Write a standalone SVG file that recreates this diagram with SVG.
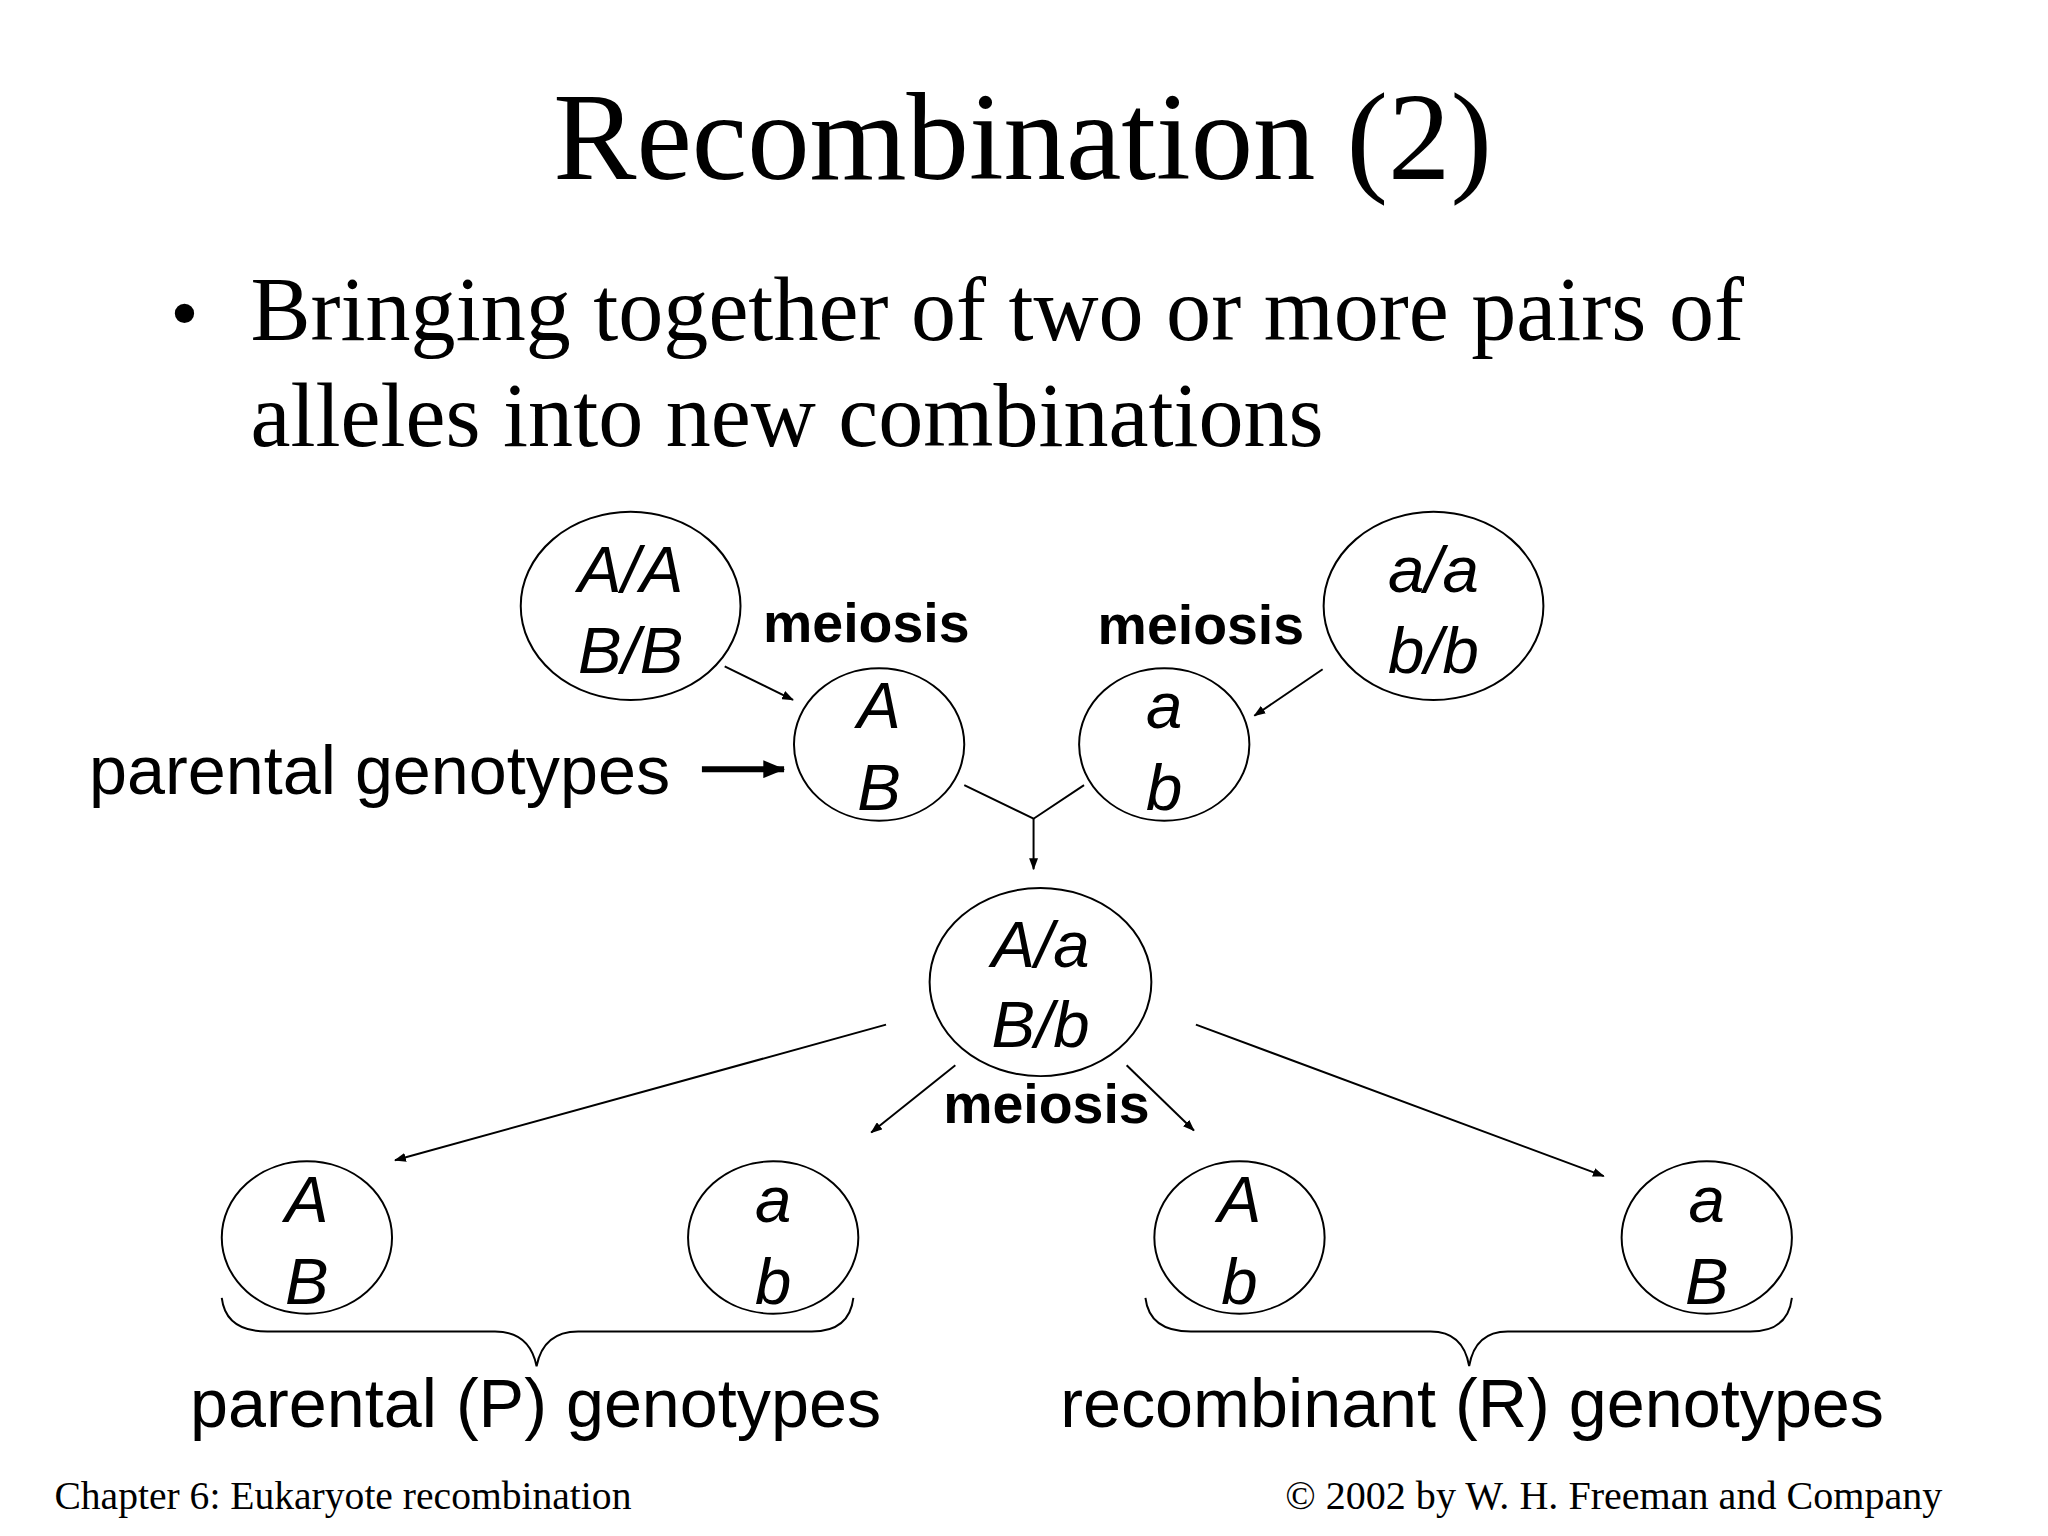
<svg xmlns="http://www.w3.org/2000/svg" width="2048" height="1536" viewBox="0 0 2048 1536">
<style>
.n{fill:none;stroke:#000;stroke-width:2}
.l{font-family:"Liberation Sans",Arial,sans-serif;font-style:italic;font-size:66px;text-anchor:middle}
.m{font-family:"Liberation Sans",Arial,sans-serif;font-weight:bold;font-size:56px;text-anchor:middle}
.c{stroke:#000;stroke-width:2;fill:none;marker-end:url(#ah)}
.s{font-family:"Liberation Serif","Times New Roman",serif}
.a{font-family:"Liberation Sans",Arial,sans-serif}
</style>
<defs><marker id="ah" markerWidth="12" markerHeight="9" refX="11" refY="4.5" orient="auto" markerUnits="userSpaceOnUse"><path d="M0,0L12,4.5L0,9z"/></marker>
<marker id="ah2" markerWidth="22" markerHeight="18" refX="21" refY="9" orient="auto" markerUnits="userSpaceOnUse"><path d="M0,0L22,9L0,18z"/></marker></defs>
<rect width="2048" height="1536" fill="#fff"/>
<g transform="scale(0.99)">
<text class="s" x="1033" y="181" font-size="126" text-anchor="middle">Recombination (2)</text>
<text class="s" x="172" y="343" font-size="82">•</text>
<text class="s" x="253" y="343" font-size="91">Bringing together of two or more pairs of</text>
<text class="s" x="253" y="451" font-size="91">alleles into new combinations</text>
<g id="AABB"><ellipse class="n" cx="637" cy="612" rx="111" ry="95"/><text class="l" x="637" y="598">A/A</text><text class="l" x="637" y="680">B/B</text></g>
<g id="aabb"><ellipse class="n" cx="1448" cy="612" rx="111" ry="95"/><text class="l" x="1448" y="598">a/a</text><text class="l" x="1448" y="680">b/b</text></g>
<g id="gAB"><ellipse class="n" cx="888" cy="752" rx="86" ry="77"/><text class="l" x="888" y="735">A</text><text class="l" x="888" y="818">B</text></g>
<g id="gab"><ellipse class="n" cx="1176" cy="752" rx="86" ry="77"/><text class="l" x="1176" y="735">a</text><text class="l" x="1176" y="818">b</text></g>
<g id="AaBb"><ellipse class="n" cx="1051" cy="992" rx="112" ry="95"/><text class="l" x="1051" y="977">A/a</text><text class="l" x="1051" y="1058">B/b</text></g>
<g id="pAB"><ellipse class="n" cx="310" cy="1250" rx="86" ry="77"/><text class="l" x="310" y="1234">A</text><text class="l" x="310" y="1317">B</text></g>
<g id="pab"><ellipse class="n" cx="781" cy="1250" rx="86" ry="77"/><text class="l" x="781" y="1234">a</text><text class="l" x="781" y="1317">b</text></g>
<g id="rAb"><ellipse class="n" cx="1252" cy="1250" rx="86" ry="77"/><text class="l" x="1252" y="1234">A</text><text class="l" x="1252" y="1317">b</text></g>
<g id="raB"><ellipse class="n" cx="1724" cy="1250" rx="86" ry="77"/><text class="l" x="1724" y="1234">a</text><text class="l" x="1724" y="1317">B</text></g>
<text class="m" x="875" y="648">meiosis</text>
<text class="m" x="1213" y="651">meiosis</text>
<text class="m" x="1057" y="1134">meiosis</text>
<text class="a" x="90" y="802" font-size="69">parental genotypes</text>
<g id="connectors">
<line x1="709" y1="777" x2="792" y2="777" stroke="#000" stroke-width="6" marker-end="url(#ah2)"/>
<line class="c" x1="732" y1="673" x2="801" y2="707"/>
<line class="c" x1="1336" y1="676" x2="1267" y2="723"/>
<polyline class="n" points="974,793 1044,827 1095,793"/>
<line class="c" x1="1044" y1="827" x2="1044" y2="878"/>
<line class="c" x1="895" y1="1035" x2="399" y2="1172"/>
<line class="c" x1="965" y1="1076" x2="880" y2="1144"/>
<line class="c" x1="1138" y1="1076" x2="1206" y2="1142"/>
<line class="c" x1="1208" y1="1035" x2="1620" y2="1188"/>
<path class="n" d="M224,1311 Q228,1345 270,1345 L500,1345 Q535,1345 542,1380 Q549,1345 584,1345 L820,1345 Q858,1345 862,1311"/>
<path class="n" d="M1157,1311 Q1161,1345 1203,1345 L1445,1345 Q1478,1345 1484,1380 Q1490,1345 1523,1345 L1768,1345 Q1806,1345 1810,1311"/>
</g>
<text class="a" x="541" y="1441" font-size="69" text-anchor="middle">parental (P) genotypes</text>
<text class="a" x="1487" y="1441" font-size="69" text-anchor="middle">recombinant (R) genotypes</text>
<text class="s" x="55" y="1524" font-size="40">Chapter 6: Eukaryote recombination</text>
<text class="s" x="1962" y="1524" font-size="40.5" text-anchor="end">© 2002 by W. H. Freeman and Company</text>
</g>
</svg>
